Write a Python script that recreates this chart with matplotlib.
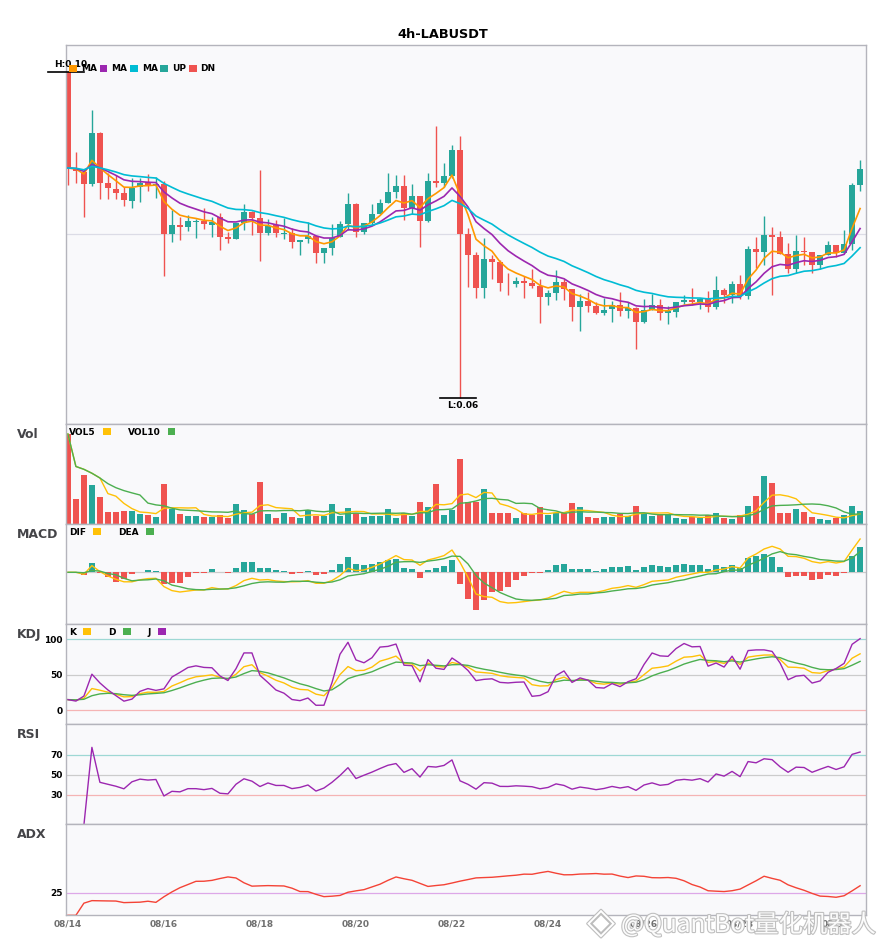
import numpy as np
import pandas as pd
import matplotlib
matplotlib.use("Agg")
import matplotlib.pyplot as plt
from matplotlib.patches import Patch
import matplotlib.patheffects as pe

# ---------------- data ----------------
title = "4h-LABUSDT"
dates = pd.date_range("2025-08-14 00:00", periods=100, freq="4h")

opens = [0.10000, 0.08802, 0.08765, 0.08617, 0.09247, 0.08630, 0.08556, 0.08506, 0.08407, 0.08580,
         0.08642, 0.08611, 0.08617, 0.08000, 0.08111, 0.08086, 0.08154, 0.08160, 0.08111, 0.08210,
         0.07963, 0.07938, 0.08136, 0.08272, 0.08198, 0.08012, 0.08111, 0.08006, 0.08012, 0.07901,
         0.07938, 0.07975, 0.07765, 0.07827, 0.07963, 0.08123, 0.08370, 0.08025, 0.08136, 0.08247,
         0.08383, 0.08519, 0.08593, 0.08321, 0.08469, 0.08160, 0.08654, 0.08630, 0.08716, 0.09037,
         0.08000, 0.07741, 0.07333, 0.07691, 0.07654, 0.07395, 0.07383, 0.07420, 0.07395, 0.07358,
         0.07222, 0.07272, 0.07407, 0.07321, 0.07099, 0.07173, 0.07111, 0.07025, 0.07074, 0.07123,
         0.07049, 0.07086, 0.06914, 0.07062, 0.07123, 0.07025, 0.07037, 0.07160, 0.07185, 0.07160,
         0.07198, 0.07099, 0.07309, 0.07247, 0.07383, 0.07235, 0.07815, 0.07778, 0.07988, 0.07963,
         0.07753, 0.07568, 0.07790, 0.07778, 0.07617, 0.07741, 0.07864, 0.07765, 0.07877, 0.08605]

highs = [0.10000, 0.09012, 0.08790, 0.09531, 0.09259, 0.08753, 0.08728, 0.08580, 0.08691, 0.08691,
         0.08741, 0.08704, 0.08654, 0.08296, 0.08210, 0.08235, 0.08185, 0.08321, 0.08210, 0.08259,
         0.08025, 0.08136, 0.08370, 0.08284, 0.08790, 0.08185, 0.08173, 0.08198, 0.08074, 0.07926,
         0.08148, 0.07975, 0.07827, 0.08123, 0.08160, 0.08506, 0.08383, 0.08136, 0.08370, 0.08432,
         0.08753, 0.08728, 0.08728, 0.08617, 0.08469, 0.08753, 0.09333, 0.08877, 0.09099, 0.09210,
         0.08074, 0.07778, 0.07951, 0.07741, 0.07679, 0.07519, 0.07469, 0.07481, 0.07568, 0.07444,
         0.07309, 0.07556, 0.07444, 0.07321, 0.07259, 0.07284, 0.07160, 0.07210, 0.07173, 0.07284,
         0.07160, 0.07099, 0.07198, 0.07259, 0.07198, 0.07111, 0.07160, 0.07247, 0.07333, 0.07210,
         0.07296, 0.07481, 0.07333, 0.07420, 0.07494, 0.07852, 0.07963, 0.08222, 0.08086, 0.08037,
         0.07889, 0.07988, 0.07963, 0.07778, 0.07741, 0.07914, 0.07864, 0.08049, 0.08630, 0.08914]

lows = [0.08605, 0.08630, 0.08210, 0.08593, 0.08432, 0.08432, 0.08432, 0.08346, 0.08321, 0.08395,
        0.08531, 0.08444, 0.07481, 0.07901, 0.07926, 0.08037, 0.07951, 0.08062, 0.07963, 0.07802,
        0.07889, 0.07938, 0.08049, 0.07988, 0.07667, 0.07988, 0.07963, 0.07938, 0.07827, 0.07741,
        0.07889, 0.07642, 0.07642, 0.07741, 0.07963, 0.08049, 0.07963, 0.08000, 0.08111, 0.08247,
        0.08383, 0.08444, 0.08173, 0.08247, 0.07840, 0.08148, 0.08580, 0.08580, 0.08691, 0.05975,
        0.07346, 0.07210, 0.07210, 0.07444, 0.07296, 0.07247, 0.07346, 0.07210, 0.07333, 0.06901,
        0.07123, 0.07185, 0.07185, 0.06926, 0.06802, 0.07037, 0.07012, 0.07000, 0.06914, 0.06988,
        0.06963, 0.06580, 0.06901, 0.07062, 0.06938, 0.06889, 0.06975, 0.07136, 0.07123, 0.07074,
        0.07037, 0.07074, 0.07148, 0.07148, 0.07198, 0.07198, 0.07580, 0.07617, 0.07247, 0.07753,
        0.07519, 0.07519, 0.07617, 0.07519, 0.07568, 0.07741, 0.07716, 0.07765, 0.07802, 0.08531]

closes = [0.08815, 0.08778, 0.08617, 0.09247, 0.08630, 0.08568, 0.08506, 0.08420, 0.08568, 0.08630,
          0.08605, 0.08617, 0.08000, 0.08111, 0.08086, 0.08160, 0.08160, 0.08123, 0.08148, 0.07963,
          0.07938, 0.08136, 0.08272, 0.08198, 0.08012, 0.08099, 0.08012, 0.08012, 0.07901, 0.07926,
          0.07975, 0.07765, 0.07827, 0.07951, 0.08123, 0.08370, 0.08025, 0.08136, 0.08247, 0.08383,
          0.08519, 0.08593, 0.08321, 0.08469, 0.08160, 0.08654, 0.08630, 0.08716, 0.09037, 0.08000,
          0.07741, 0.07333, 0.07691, 0.07654, 0.07395, 0.07389, 0.07420, 0.07395, 0.07358, 0.07222,
          0.07272, 0.07407, 0.07321, 0.07099, 0.07173, 0.07111, 0.07025, 0.07062, 0.07123, 0.07049,
          0.07086, 0.06914, 0.07062, 0.07123, 0.07025, 0.07049, 0.07160, 0.07185, 0.07160, 0.07198,
          0.07099, 0.07309, 0.07247, 0.07383, 0.07235, 0.07815, 0.07778, 0.07988, 0.07963, 0.07753,
          0.07568, 0.07790, 0.07778, 0.07617, 0.07741, 0.07864, 0.07765, 0.07877, 0.08605, 0.08802]

volumes = [9.03, 2.53, 4.93, 3.93, 2.73, 1.23, 1.23, 1.33, 1.33, 1.03,
           0.93, 0.73, 4.03, 1.53, 1.03, 0.83, 0.83, 0.73, 0.73, 0.93,
           0.63, 2.03, 1.43, 1.03, 4.23, 1.03, 0.63, 1.13, 0.73, 0.63,
           1.43, 0.83, 0.83, 2.03, 0.83, 1.63, 1.13, 0.73, 0.83, 0.83,
           1.53, 0.63, 1.13, 0.83, 2.23, 1.73, 4.03, 0.93, 1.43, 6.53,
           2.23, 2.23, 3.53, 1.13, 1.13, 1.13, 0.63, 1.13, 0.93, 1.73,
           0.93, 1.13, 1.13, 2.13, 1.73, 0.73, 0.63, 0.73, 0.73, 1.03,
           0.83, 1.83, 1.13, 0.83, 1.03, 0.93, 0.63, 0.53, 0.73, 0.63,
           0.93, 1.13, 0.63, 0.53, 0.93, 1.83, 2.83, 4.83, 4.13, 1.13,
           1.13, 1.53, 1.23, 0.73, 0.53, 0.43, 0.63, 0.93, 1.83, 1.33]

# MACD (units of 1e-4)
macd_dif = [0.00, 0.00, -0.20, 0.67, 0.07, -0.37, -0.70, -0.95, -0.95, -0.75,
            -0.63, -0.60, -1.43, -1.83, -1.97, -1.87, -1.77, -1.77, -1.53, -1.67,
            -1.67, -1.33, -0.83, -0.60, -0.77, -0.73, -0.87, -0.93, -0.95, -0.93,
            -0.83, -1.10, -1.10, -0.83, -0.33, 0.40, 0.17, 0.23, 0.50, 0.83,
            1.23, 1.67, 1.27, 1.23, 0.70, 1.23, 1.43, 1.67, 2.23, 1.00,
            -0.50, -2.17, -2.43, -2.50, -2.93, -3.07, -3.03, -2.93, -2.83, -2.77,
            -2.57, -2.23, -1.90, -2.10, -2.00, -2.00, -2.00, -1.83, -1.60, -1.50,
            -1.33, -1.50, -1.23, -0.90, -0.83, -0.77, -0.50, -0.33, -0.17, 0.00,
            0.00, 0.23, 0.33, 0.57, 0.43, 1.43, 1.83, 2.33, 2.60, 2.33,
            1.60, 1.57, 1.40, 1.07, 0.93, 1.07, 0.93, 1.07, 2.23, 3.33]
macd_dea = [0.00, 0.00, -0.05, 0.18, 0.12, -0.12, -0.25, -0.60, -0.85, -0.78,
            -0.75, -0.67, -0.85, -1.28, -1.45, -1.65, -1.73, -1.75, -1.70, -1.68,
            -1.65, -1.55, -1.35, -1.12, -0.99, -0.95, -0.98, -0.99, -0.89, -0.90,
            -0.90, -0.99, -1.04, -0.97, -0.75, -0.37, -0.25, -0.14, 0.09, 0.30,
            0.60, 1.01, 1.06, 1.07, 0.99, 1.12, 1.22, 1.36, 1.62, 1.59,
            0.84, -0.31, -1.07, -1.54, -2.02, -2.36, -2.67, -2.77, -2.80, -2.74,
            -2.69, -2.60, -2.32, -2.27, -2.17, -2.17, -2.07, -2.00, -1.87, -1.77,
            -1.65, -1.62, -1.50, -1.27, -1.15, -1.04, -0.87, -0.75, -0.54, -0.37,
            -0.17, -0.14, 0.07, 0.21, 0.22, 0.72, 1.02, 1.42, 1.84, 2.07,
            1.84, 1.76, 1.59, 1.46, 1.27, 1.21, 1.12, 1.11, 1.42, 2.07]
macd_hist = [0.00, 0.00, -0.30, 0.97, -0.10, -0.50, -0.93, -0.70, -0.20, 0.03,
             0.23, 0.13, -1.17, -1.10, -1.03, -0.43, -0.07, -0.03, 0.33, 0.03,
             -0.07, 0.43, 1.03, 1.03, 0.43, 0.43, 0.23, 0.13, -0.13, -0.07,
             0.13, -0.23, -0.13, 0.27, 0.83, 1.53, 0.83, 0.73, 0.83, 1.07,
             1.27, 1.33, 0.43, 0.33, -0.57, 0.23, 0.43, 0.63, 1.23, -1.17,
             -2.67, -3.73, -2.73, -1.93, -1.83, -1.43, -0.73, -0.33, -0.07, -0.07,
             0.23, 0.73, 0.83, 0.33, 0.33, 0.33, 0.13, 0.33, 0.53, 0.53,
             0.63, 0.23, 0.53, 0.73, 0.63, 0.53, 0.73, 0.83, 0.73, 0.73,
             0.33, 0.73, 0.53, 0.73, 0.43, 1.43, 1.63, 1.83, 1.53, 0.53,
             -0.47, -0.37, -0.37, -0.77, -0.67, -0.27, -0.37, -0.07, 1.63, 2.53]

panel_names = ["Vol", "MACD", "KDJ", "RSI", "ADX"]
watermark = "@QuantBot量化机器人"

# ---------------- indicators ----------------
o = pd.Series(opens); h = pd.Series(highs); l = pd.Series(lows)
c = pd.Series(closes); v = pd.Series(volumes)
x = np.arange(len(c))

def ema(s, span):
    return s.ewm(span=span, adjust=False).mean()

ma5, ma10, ma20 = ema(c, 5), ema(c, 10), ema(c, 20)
vol5 = v.rolling(5, min_periods=1).mean()
vol10 = v.rolling(10, min_periods=1).mean()

dif = pd.Series(macd_dif); dea = pd.Series(macd_dea); hist = pd.Series(macd_hist)

llv = l.rolling(9, min_periods=1).min()
hhv = h.rolling(9, min_periods=1).max()
rsv = (c - llv) / (hhv - llv) * 100
k = rsv.ewm(com=2, adjust=False).mean()
d = k.ewm(com=2, adjust=False).mean()
j = 3 * k - 2 * d

delta = c.diff()
gain = delta.clip(lower=0)
loss = (-delta).clip(lower=0)
ag = gain.ewm(com=13, adjust=True).mean()
al = loss.ewm(com=13, adjust=True).mean()
rsi = 100 * ag / (ag + al)

upm = h.diff(); dnm = -l.diff()
pdm = pd.Series(np.where((upm > dnm) & (upm > 0), upm, 0.0))
mdm = pd.Series(np.where((dnm > upm) & (dnm > 0), dnm, 0.0))
tr = pd.concat([h - l, (h - c.shift()).abs(), (l - c.shift()).abs()], axis=1).max(axis=1)
atr = tr.ewm(span=14, adjust=False).mean()
pdi = 100 * pdm.ewm(span=14, adjust=False).mean() / atr
mdi = 100 * mdm.ewm(span=14, adjust=False).mean() / atr
dx = (100 * (pdi - mdi).abs() / (pdi + mdi)).fillna(0)
adx = dx.ewm(span=14, adjust=False).mean()

# ---------------- style ----------------
UP = "#26A69A"; DN = "#EF5350"
ORANGE = "#FF9800"; PURPLE = "#9C27B0"; CYAN = "#00BCD4"
AMBER = "#FFC107"; GREEN = "#4CAF50"; RED = "#F44336"
BG = "#F9F9FB"; SPINE = "#B4B4BC"
FS = 6.5

W, H = 885, 950
fig = plt.figure(figsize=(W / 100, H / 100), dpi=100)
left_px, right_px = 65.5, 865.7
bounds = [(45.3, 424.3), (424.3, 524.3), (524.3, 624.3), (624.3, 724.3), (724.3, 824.3), (824.3, 915.3)]
axes = []
for i, (top, bot) in enumerate(bounds):
    rect = [left_px / W, 1 - bot / H, (right_px - left_px) / W, (bot - top) / H]
    ax = fig.add_axes(rect, sharex=axes[0] if axes else None)
    ax.set_facecolor(BG)
    for sp in ax.spines.values():
        sp.set_color(SPINE)
        sp.set_linewidth(1.0)
    ax.tick_params(length=0, labelsize=FS, pad=2)
    ax.set_yticks([])
    axes.append(ax)
ax_p, ax_v, ax_m, ax_k, ax_r, ax_a = axes

bar_colors = np.where(c >= o, UP, DN)

def add_legend(ax, labels, colors, markerfirst, anchor_y=1.0, colsp=1.9, pad=0.8):
    handles = [Patch(facecolor=cc, edgecolor="none") for cc in colors]
    ax.legend(handles, labels, loc="upper left", bbox_to_anchor=(0.0, anchor_y), ncol=len(labels),
              frameon=False, prop={"weight": "bold", "size": FS}, handlelength=0.85, handleheight=0.85,
              handletextpad=pad, columnspacing=colsp, borderaxespad=0.1, borderpad=0.3,
              markerfirst=markerfirst)

# ---- price panel ----
ax_p.axhline(0.08, color="#DCDCE6", lw=0.9, zorder=0)
ax_p.vlines(x, l, h, colors=bar_colors, lw=1.0, zorder=2)
body_lo = np.minimum(o, c)
body_h = np.maximum((c - o).abs(), 0.00004)
ax_p.bar(x, body_h, bottom=body_lo, width=0.75, color=bar_colors, linewidth=0, zorder=2)
ax_p.plot(x, ma5, color=ORANGE, lw=1.2, zorder=3)
ax_p.plot(x, ma10, color=PURPLE, lw=1.2, zorder=3)
ax_p.plot(x, ma20, color=CYAN, lw=1.2, zorder=3)
ax_p.set_ylim(0.0565, 0.1033)
ih = int(np.argmax(highs)); il = int(np.argmin(lows))
ax_p.plot([ih - 2.5, ih + 2.0], [highs[ih], highs[ih]], color="black", lw=1.2, clip_on=False, zorder=5)
ax_p.annotate(f"H:{highs[ih]:.2f}", (ih + 0.4, highs[ih]), xytext=(0, 2), textcoords="offset points",
              ha="center", va="bottom", fontsize=FS, fontweight="bold", annotation_clip=False, zorder=5)
ax_p.plot([il - 2.5, il + 2.0], [lows[il], lows[il]], color="black", lw=1.2, clip_on=False, zorder=5)
ax_p.annotate(f"L:{lows[il]:.2f}", (il + 0.4, lows[il]), xytext=(0, -2), textcoords="offset points",
              ha="center", va="top", fontsize=FS, fontweight="bold", annotation_clip=False, zorder=5)
add_legend(ax_p, ["MA", "MA", "MA", "UP", "DN"], [ORANGE, PURPLE, CYAN, UP, DN], True,
           anchor_y=0.959, colsp=0.3, pad=0.45)

# ---- volume ----
ax_v.bar(x, v, width=0.75, color=bar_colors, linewidth=0)
ax_v.plot(x, vol5, color=AMBER, lw=1.0)
ax_v.plot(x, vol10, color=GREEN, lw=1.0)
ax_v.set_ylim(0, v.max() * 1.107)
add_legend(ax_v, ["VOL5", "VOL10"], [AMBER, GREEN], False)

# ---- MACD ----
ax_m.axhline(0, color="#CCCCCC", lw=0.9, zorder=0)
ax_m.bar(x, hist, width=0.75, color=np.where(hist >= 0, UP, DN), linewidth=0)
ax_m.plot(x, dif, color=AMBER, lw=1.0)
ax_m.plot(x, dea, color=GREEN, lw=1.0)
ax_m.set_ylim(-5.2, 4.8)
add_legend(ax_m, ["DIF", "DEA"], [AMBER, GREEN], False)

# ---- KDJ ----
ax_k.axhline(100, color="#9ED8D4", lw=0.9, zorder=0)
ax_k.axhline(50, color="#CCCCCC", lw=0.9, zorder=0)
ax_k.axhline(0, color="#F5B4B4", lw=0.9, zorder=0)
ax_k.plot(x, k, color=AMBER, lw=1.0)
ax_k.plot(x, d, color=GREEN, lw=1.0)
ax_k.plot(x, j, color=PURPLE, lw=1.0)
ax_k.set_ylim(-19.7, 121.1)
ax_k.set_yticks([0, 50, 100])
add_legend(ax_k, ["K", "D", "J"], [AMBER, GREEN, PURPLE], False)

# ---- RSI ----
ax_r.axhline(70, color="#9ED8D4", lw=0.9, zorder=0)
ax_r.axhline(50, color="#CCCCCC", lw=0.9, zorder=0)
ax_r.axhline(30, color="#F5B4B4", lw=0.9, zorder=0)
ax_r.plot(x, rsi, color=PURPLE, lw=1.0)
ax_r.set_ylim(0.7, 100.7)
ax_r.set_yticks([30, 50, 70])

# ---- ADX ----
ax_a.axhline(25, color="#DDA8E8", lw=0.9, zorder=0)
ax_a.plot(x, adx, color=RED, lw=1.0)
ax_a.set_ylim(0, 100)
ax_a.set_yticks([25])

for ax in axes:
    for t in ax.get_yticklabels():
        t.set_fontweight("bold")
    ax.set_xlim(-0.3, 99.7)
for ax in axes[:-1]:
    ax.tick_params(labelbottom=False)

tick_idx = [i for i, t in enumerate(dates) if t.hour == 0 and t.day % 2 == 0]
ax_a.set_xticks(tick_idx)
ax_a.set_xticklabels([dates[i].strftime("%m/%d") for i in tick_idx], fontsize=FS,
                     fontweight="bold", color="#707070")
ax_a.tick_params(axis="x", pad=3)

fig.text(0.5, 1 - 34 / H, title, ha="center", va="center", fontsize=9.3, fontweight="bold")
for name, (top, bot) in zip(panel_names, bounds[1:]):
    fig.text(17 / W, 1 - (top + 10.5) / H, name, ha="left", va="center", fontsize=9,
             fontweight="bold", color="#444448")

stroke = [pe.withStroke(linewidth=1.6, foreground="#BDBDBD")]
fig.text(621 / W, 1 - 925 / H, watermark, ha="left", va="center", fontsize=17.5, color="white",
         family=["Noto Sans CJK SC", "DejaVu Sans"], path_effects=stroke, alpha=0.95)
fig.text(601 / W, 1 - 923 / H, "◈", ha="center", va="center", fontsize=26, color="white",
         family=["DejaVu Sans"], path_effects=stroke)

fig.savefig("out.png", dpi=100, facecolor="white")
